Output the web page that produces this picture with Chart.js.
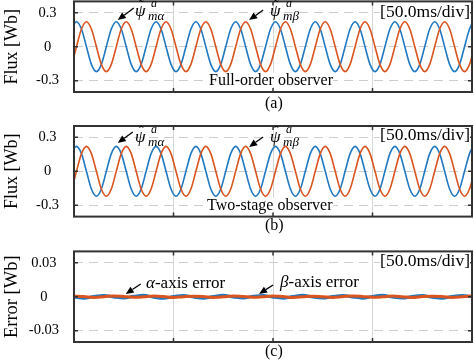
<!DOCTYPE html>
<html><head><meta charset="utf-8">
<script src="https://cdn.jsdelivr.net/npm/chart.js@4/dist/chart.umd.min.js"></script>
<style>
html,body{margin:0;padding:0;background:#fff;}
#wrap{position:relative;width:474px;height:361px;overflow:hidden;font-family:'Liberation Serif','Times New Roman',serif;color:#000;}
canvas{position:absolute;left:0;}
.t{position:absolute;white-space:nowrap;line-height:1;}
.bg{background:#fff;}
.it{font-style:italic;}
</style></head><body>
<div id="wrap">
<canvas id="ca" width="474" height="94" style="top:0px"></canvas>
<canvas id="cb" width="474" height="94" style="top:124px"></canvas>
<canvas id="cc" width="474" height="94" style="top:249px"></canvas>

<!-- panel (a) texts -->
<div class="t it" style="left:135px;top:2px;font-size:17px">ψ</div>
<div class="t" style="left:139px;top:-1px;font-size:14px">˜</div>
<div class="t it" style="left:151px;top:-3px;font-size:12px">a</div>
<div class="t it" style="left:148px;top:9px;font-size:13px">mα</div>
<div class="t it" style="left:270px;top:2px;font-size:17px">ψ</div>
<div class="t" style="left:274px;top:-1px;font-size:14px">˜</div>
<div class="t it" style="left:286px;top:-3px;font-size:12px">a</div>
<div class="t it" style="left:283px;top:9px;font-size:13px">mβ</div>
<div class="t bg" style="right:4px;top:4px;font-size:17.5px;line-height:14px">[50.0ms/div]</div>
<div class="t bg" style="left:209px;top:72.6px;font-size:16px;line-height:14px">Full-order observer</div>
<div class="t" style="left:265px;top:94.5px;font-size:16px">(a)</div>

<!-- panel (b) texts -->
<div class="t it" style="left:135px;top:127.5px;font-size:17px">ψ</div>
<div class="t" style="left:139px;top:125px;font-size:14px">ˆ</div>
<div class="t it" style="left:151px;top:122.5px;font-size:12px">a</div>
<div class="t it" style="left:148px;top:134.5px;font-size:13px">mα</div>
<div class="t it" style="left:270px;top:127.5px;font-size:17px">ψ</div>
<div class="t" style="left:274px;top:125px;font-size:14px">ˆ</div>
<div class="t it" style="left:286px;top:122.5px;font-size:12px">a</div>
<div class="t it" style="left:283px;top:134.5px;font-size:13px">mβ</div>
<div class="t bg" style="right:4px;top:127.3px;font-size:17.5px;line-height:14px">[50.0ms/div]</div>
<div class="t bg" style="left:207px;top:197.6px;font-size:16px;line-height:14px">Two-stage observer</div>
<div class="t" style="left:265px;top:217px;font-size:16px">(b)</div>

<!-- panel (c) texts -->
<div class="t bg" style="right:4px;top:252.6px;font-size:17.5px;line-height:14px">[50.0ms/div]</div>
<div class="t" style="left:146px;top:274px;font-size:17px"><span class="it">α</span>-axis error</div>
<div class="t" style="left:280px;top:272.8px;font-size:17px"><span class="it">β</span>-axis error</div>
<div class="t" style="left:265px;top:343px;font-size:16px">(c)</div>
</div>
<script>
// ---------------- data ----------------
const timeMs = [0,
1.25,3.75,6.25,8.75,11.25,13.75,16.25,18.75,
21.25,23.75,26.25,28.75,31.25,33.75,36.25,38.75,
41.25,43.75,46.25,48.75,51.25,53.75,56.25,58.75,
61.25,63.75,66.25,68.75,71.25,73.75,76.25,78.75,
81.25,83.75,86.25,88.75,91.25,93.75,96.25,98.75,
101.25,103.75,106.25,108.75,111.25,113.75,116.25,118.75,
121.25,123.75,126.25,128.75,131.25,133.75,136.25,138.75,
141.25,143.75,146.25,148.75,151.25,153.75,156.25,158.75,
161.25,163.75,166.25,168.75,171.25,173.75,176.25,178.75,
181.25,183.75,186.25,188.75,191.25,193.75,196.25,198.75,
200];
const fluxAlpha = [0.203,
0.22,0.156,0,-0.156,-0.22,-0.156,0,0.156,
0.22,0.156,0,-0.156,-0.22,-0.156,0,0.156,
0.22,0.156,0,-0.156,-0.22,-0.156,0,0.156,
0.22,0.156,0,-0.156,-0.22,-0.156,0,0.156,
0.22,0.156,0,-0.156,-0.22,-0.156,0,0.156,
0.22,0.156,0,-0.156,-0.22,-0.156,0,0.156,
0.22,0.156,0,-0.156,-0.22,-0.156,0,0.156,
0.22,0.156,0,-0.156,-0.22,-0.156,0,0.156,
0.22,0.156,0,-0.156,-0.22,-0.156,0,0.156,
0.22,0.156,0,-0.156,-0.22,-0.156,0,0.156,
0.203];
const fluxBeta = [-0.084,
0,0.156,0.22,0.156,0,-0.156,-0.22,-0.156,
0,0.156,0.22,0.156,0,-0.156,-0.22,-0.156,
0,0.156,0.22,0.156,0,-0.156,-0.22,-0.156,
0,0.156,0.22,0.156,0,-0.156,-0.22,-0.156,
0,0.156,0.22,0.156,0,-0.156,-0.22,-0.156,
0,0.156,0.22,0.156,0,-0.156,-0.22,-0.156,
0,0.156,0.22,0.156,0,-0.156,-0.22,-0.156,
0,0.156,0.22,0.156,0,-0.156,-0.22,-0.156,
0,0.156,0.22,0.156,0,-0.156,-0.22,-0.156,
0,0.156,0.22,0.156,0,-0.156,-0.22,-0.156,
-0.084];
const errTimeMs = [0,5,10,15,20,25,30,35,40,45,50,55,60,65,70,75,80,85,90,95,100,
105,110,115,120,125,130,135,140,145,150,155,160,165,170,175,180,185,190,195,200];
const errAlpha = [-0.0003,-0.0013,0.0002,0.0011,-0.0002,-0.0012,0.0003,0.0012,-0.0004,-0.0014,
0.0001,0.0010,-0.0003,-0.0013,0.0002,0.0012,-0.0002,-0.0012,0.0003,0.0011,-0.0004,
-0.0013,0.0002,0.0012,-0.0003,-0.0012,0.0001,0.0011,-0.0002,-0.0013,0.0003,
0.0012,-0.0003,-0.0012,0.0002,0.0010,-0.0004,-0.0013,0.0002,0.0011,-0.0002];
const errBeta = [0.0005,0.0001,-0.0006,0.0000,0.0007,0.0002,-0.0005,-0.0001,0.0006,0.0001,
-0.0007,0.0000,0.0005,0.0002,-0.0006,-0.0001,0.0007,0.0001,-0.0005,0.0000,0.0006,
0.0002,-0.0007,-0.0001,0.0005,0.0000,-0.0006,0.0001,0.0007,0.0002,-0.0005,
-0.0001,0.0006,0.0000,-0.0007,0.0001,0.0005,0.0002,-0.0006,-0.0001,0.0006];
const xTicks = [0,50,100,150,200];
const fluxTicks = [-0.3,0,0.3];
const errTicks = [-0.03,0,0.03];

// ---------------- style ----------------
const BLUE = '#1f78c1', ORANGE = '#d9541e';
const pts = (ts, vs) => ts.map((t,i)=>({x:t, y:vs[i]}));

const framePlugin = {
  id: 'frame',
  afterDatasetsDraw(chart, args, opts) {
    const {ctx, chartArea: a, scales: {x, y}} = chart;
    ctx.save();
    ctx.strokeStyle = '#333'; ctx.lineWidth = 1.5;
    ctx.beginPath();
    y.ticks.forEach(t => { const py = y.getPixelForValue(t.value);
      ctx.moveTo(a.left, py); ctx.lineTo(a.left+4, py);
      ctx.moveTo(a.right, py); ctx.lineTo(a.right-4, py); });
    x.ticks.forEach(t => { const px = x.getPixelForValue(t.value);
      ctx.moveTo(px, a.top); ctx.lineTo(px, a.top+4);
      ctx.moveTo(px, a.bottom); ctx.lineTo(px, a.bottom-4); });
    ctx.stroke();
    ctx.lineWidth = 2;
    ctx.strokeRect(a.left, a.top, a.right-a.left, a.bottom-a.top);
    (opts.arrows || []).forEach(ar => {
      const tx = x.getPixelForValue(ar.t), ty = y.getPixelForValue(ar.v);
      const sx = tx + ar.dx, sy = ty + ar.dy;
      const ang = Math.atan2(ty - sy, tx - sx);
      const L = 8, W = 3.5;
      const bx = tx - L*Math.cos(ang), by = ty - L*Math.sin(ang);
      ctx.lineWidth = 1.3; ctx.strokeStyle = '#000'; ctx.fillStyle = '#000';
      ctx.beginPath(); ctx.moveTo(sx, sy); ctx.lineTo(bx, by); ctx.stroke();
      ctx.beginPath(); ctx.moveTo(tx, ty);
      ctx.lineTo(bx - W*Math.sin(ang), by + W*Math.cos(ang));
      ctx.lineTo(bx + W*Math.sin(ang), by - W*Math.cos(ang));
      ctx.closePath(); ctx.fill();
    });
    ctx.restore();
  }
};

function makeChart(id, pad, yLim, yTicks, title, titleSize, datasets, arrows) {
  return new Chart(document.getElementById(id), {
    type: 'line',
    data: { datasets },
    options: {
      responsive: false, animation: false, events: [],
      layout: { padding: { top: pad[0], bottom: pad[1], left: 0, right: 2 } },
      elements: { point: { radius: 0 }, line: { cubicInterpolationMode: 'monotone' } },
      plugins: { legend: { display: false }, tooltip: { enabled: false }, frame: { arrows } },
      scales: {
        x: {
          type: 'linear', min: 0, max: 200,
          afterBuildTicks: s => { s.ticks = xTicks.map(v => ({value: v})); },
          afterFit: s => { s.height = 0; s.paddingLeft = 0; s.paddingRight = 0; },
          ticks: { display: false },
          grid: { color: '#d6d6d6', lineWidth: 1, drawTicks: false },
          border: { display: false }
        },
        y: {
          min: yLim[0], max: yLim[1],
          afterBuildTicks: s => { s.ticks = yTicks.map(v => ({value: v})); },
          afterFit: s => { s.width = 74; s.paddingTop = 0; s.paddingBottom = 0; },
          ticks: { color: '#000', font: { family: 'Liberation Serif', size: 14.5 },
                   padding: 15, crossAlign: 'center', callback: v => String(v) },
          grid: { color: '#cdcdcd', lineWidth: 1, drawTicks: false },
          border: { display: false, dash: [9, 6] },
          title: { display: true, text: title, color: '#000',
                   font: { family: 'Liberation Serif', size: titleSize }, padding: { top: 1, bottom: 0 } }
        }
      }
    },
    plugins: [framePlugin]
  });
}

const fluxSets = (w) => [
  { data: pts(timeMs, fluxBeta), borderColor: ORANGE, borderWidth: w, order: 0 },
  { data: pts(timeMs, fluxAlpha), borderColor: BLUE, borderWidth: w, order: 1 }
];

makeChart('ca', [1.4, 2], [-0.4, 0.4], fluxTicks, 'Flux [Wb]', 18, fluxSets(1.6),
  [{t: 22, v: 0.235, dx: 16, dy: -12}, {t: 88, v: 0.235, dx: 14, dy: -10}]);
makeChart('cb', [2, 1.4], [-0.4, 0.4], fluxTicks, 'Flux [Wb]', 18, fluxSets(1.6),
  [{t: 22, v: 0.25, dx: 15, dy: -11}, {t: 88, v: 0.215, dx: 14, dy: -10}]);
makeChart('cc', [2.4, 1], [-0.04, 0.04], errTicks, 'Error [Wb]', 18.5, [
  { data: pts(errTimeMs, errBeta), borderColor: ORANGE, borderWidth: 3, order: 0 },
  { data: pts(errTimeMs, errAlpha), borderColor: BLUE, borderWidth: 3, order: 1 }
], [{t: 26, v: 0.0024, dx: 15, dy: -10}, {t: 93, v: 0.0024, dx: 14, dy: -9}]);
</script>
</body></html>
